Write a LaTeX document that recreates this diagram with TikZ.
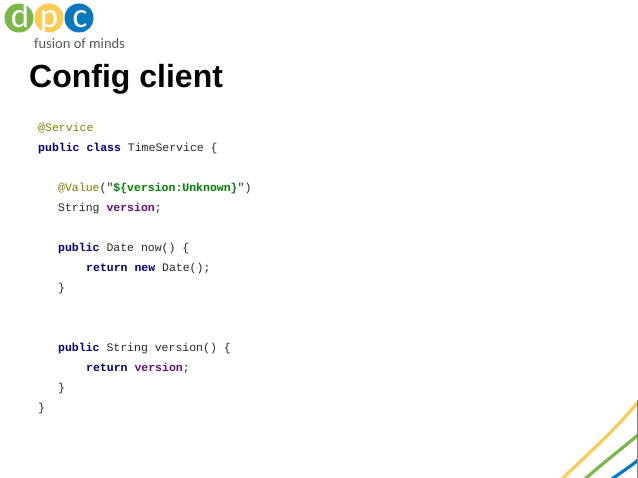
\documentclass[tikz,border=0pt]{standalone}
\usepackage{fontspec}
\setmainfont{Liberation Sans}
\newfontfamily\codefont{Liberation Mono}
\newfontfamily\logofont{Carlito}
\definecolor{kw}{RGB}{0,0,128}
\definecolor{ann}{RGB}{128,128,0}
\definecolor{str}{RGB}{0,128,0}
\definecolor{fld}{RGB}{102,14,122}
\definecolor{plain}{RGB}{40,40,40}
\definecolor{dgreen}{RGB}{122,184,72}
\definecolor{dyellow}{RGB}{250,204,84}
\definecolor{dblue}{RGB}{10,120,190}
\newcommand{\K}[1]{\textcolor{kw}{\textbf{#1}}}
\newcommand{\A}[1]{\textcolor{ann}{#1}}
\newcommand{\Sx}[1]{\textcolor{str}{\textbf{#1}}}
\newcommand{\F}[1]{\textcolor{fld}{\textbf{#1}}}
\tikzset{
  code/.style={anchor=base west,inner sep=0pt,text=plain,font=\codefont\fontsize{11.5}{12}\selectfont},
  logoletter/.style={anchor=base,inner sep=0pt,text=white,font=\logofont\fontsize{35}{35}\selectfont},
  stripe/.style={line width=3.2pt}
}
\begin{document}
\begin{tikzpicture}[x=1pt,y=-1pt]
\useasboundingbox (0,0) rectangle (638,478);
\fill[white] (0,0) rectangle (638,478);
% logo
\fill[dgreen] (19,18) circle (14.5);
\fill[dyellow] (49,18) circle (14.5);
\fill[dblue] (79,18) circle (14.5);
\node[logoletter] (ld) at (20,28) {d};
\node[logoletter] (lp) at (49,28) {p};
\node[logoletter] (lc) at (80,28) {c};
\node[anchor=base west,inner sep=0pt,text=black!65,font=\logofont\fontsize{14.5}{15}\selectfont] (tag) at (34,48.5) {fusion of minds};
% title
\node[anchor=base west,inner sep=0pt,font=\bfseries\fontsize{32}{34}\selectfont] (title) at (29,88) {Config client};
% code
\node[code] (c1) at (38,132) {\A{@Service}};
\node[code] (c2) at (38,152) {\K{public class} TimeService \{};
\node[code] (c3) at (58,192) {\A{@Value}("\Sx{\$\{version:Unknown\}}")};
\node[code] (c4) at (58,212) {String \F{version};};
\node[code] (c5) at (58,252) {\K{public} Date now() \{};
\node[code] (c6) at (86,272) {\K{return new} Date();};
\node[code] (c7) at (58,292) {\}};
\node[code] (c8) at (58,352) {\K{public} String version() \{};
\node[code] (c9) at (86,372) {\K{return} \F{version};};
\node[code] (c10) at (58,392) {\}};
\node[code] (c11) at (38,412) {\}};
% stripes
\draw[stripe,dyellow] (562,479) .. controls (590,452) and (615,430) .. (638,402);
\draw[stripe,dgreen] (585,479) .. controls (602,464) and (620,450) .. (638,435);
\draw[stripe,dblue] (612,479) .. controls (620,473) and (630,467) .. (638,460);
\draw[gray,line width=0.8pt] (637.6,400) -- (637.6,478);
\end{tikzpicture}
\end{document}
